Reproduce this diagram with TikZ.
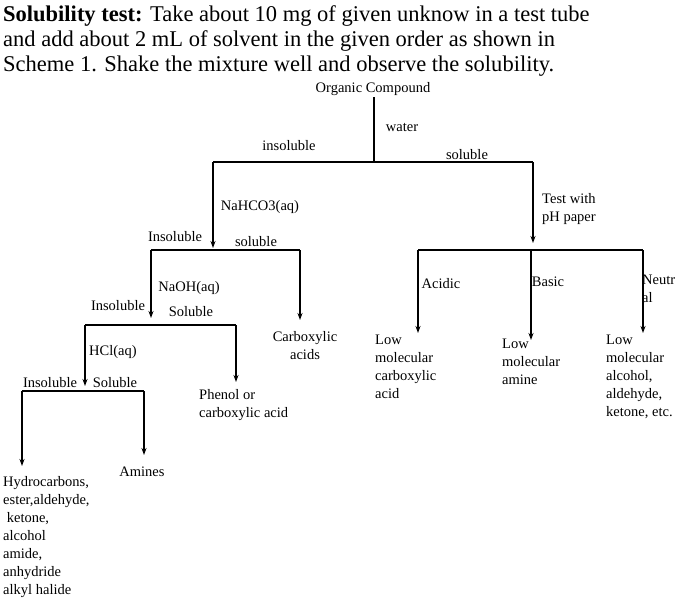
\documentclass[tikz,border=0pt]{standalone}
\usepackage{fontspec}
\setmainfont{Liberation Serif}
\usetikzlibrary{arrows.meta}
\begin{document}
\begin{tikzpicture}[x=1pt,y=-1pt,
  lbl/.style={font=\fontsize{14.5}{18}\selectfont,inner sep=0pt},
  blk/.style={lbl,align=left,anchor=north west},
  ln/.style={line width=1.2pt},
  ar/.style={ln,-{Stealth[length=7pt,width=5pt]}}]
\useasboundingbox (0,0) rectangle (700,608);
\node[anchor=north west,inner sep=0pt,align=left,font=\fontsize{22.5}{25}\selectfont] (head) at (3,5)
 {\textbf{Solubility test:} Take about 10 mg of given unknow in a test tube\\
 and add about 2 mL of solvent in the given order as shown in\\
 Scheme 1. Shake the mixture well and observe the solubility.};
\node[lbl] (oc) at (373,89) {Organic Compound};
\coordinate (t0) at (374,97);
\coordinate (j0) at (374,162);
\draw[ln] (t0) -- (j0);
\coordinate (l0) at (213,162); \coordinate (r0) at (533,162);
\draw[ln] (l0) -- (r0);
\node[lbl] (water) at (402,127) {water};
\node[lbl] (ins0) at (289,146) {insoluble};
\node[lbl] (sol0) at (467,155) {soluble};
% right branch
\node[lbl,align=left,anchor=north west] (ph) at (542,193) {Test with\\pH paper};
\coordinate (r1) at (533,243);
\draw[ar] (r0) -- (r1);
\coordinate (h1a) at (418,250); \coordinate (h1c) at (643,250);
\draw[ln] (h1a) -- (h1c);
\coordinate (h1b) at (531,250);
\coordinate (a1) at (418,333); \coordinate (a2) at (531,340); \coordinate (a3) at (643,333);
\draw[ar] (h1a) -- (a1); \draw[ar] (h1b) -- (a2); \draw[ar] (h1c) -- (a3);
\node[lbl] (acid) at (441,284) {Acidic};
\node[lbl] (basic) at (548,282) {Basic};
\node[blk] (neut) at (642,275) {Neutr\\al};
\node[blk] (lma) at (375,335) {Low\\molecular\\carboxylic\\acid};
\node[blk] (lmb) at (502,339) {Low\\molecular\\amine};
\node[blk] (lmn) at (606,335) {Low\\molecular\\alcohol,\\aldehyde,\\ketone, etc.};
% left branch level 1
\node[lbl] (nahco) at (260,207) {NaHCO3(aq)};
\coordinate (l1) at (213,248);
\draw[ar] (l0) -- (l1);
\node[lbl] (ins1) at (175,237) {Insoluble};
\node[lbl] (sol1) at (256,242) {soluble};
\coordinate (h2a) at (151,250); \coordinate (h2b) at (300,250);
\draw[ln] (h2a) -- (h2b);
\coordinate (b1) at (151,318); \coordinate (b2) at (300,320);
\draw[ar] (h2a) -- (b1); \draw[ar] (h2b) -- (b2);
\node[lbl,align=center] (carb) at (305,346) {Carboxylic\\acids};
\node[lbl] (naoh) at (189,288) {NaOH(aq)};
\node[lbl] (ins2) at (118,306) {Insoluble};
\node[lbl] (sol2) at (191,312) {Soluble};
\coordinate (h3a) at (85,325); \coordinate (h3b) at (236,325);
\draw[ln] (h3a) -- (h3b);
\coordinate (c1) at (85,386); \coordinate (c2) at (236,382);
\draw[ar] (h3a) -- (c1); \draw[ar] (h3b) -- (c2);
\node[blk] (phen) at (199,389) {Phenol or\\carboxylic acid};
\node[lbl] (hcl) at (113,352) {HCl(aq)};
\node[lbl] (ins3) at (50,383) {Insoluble};
\node[lbl] (sol3) at (115,383) {Soluble};
\coordinate (h4a) at (22,391); \coordinate (h4b) at (144,391);
\draw[ln] (h4a) -- (h4b);
\coordinate (d1) at (22,466); \coordinate (d2) at (144,455);
\draw[ar] (h4a) -- (d1); \draw[ar] (h4b) -- (d2);
\node[lbl] (amin) at (142,472) {Amines};
\node[blk] (hyd) at (3,476) {Hydrocarbons,\\ester,aldehyde,\\\ ketone,\\alcohol\\amide,\\anhydride\\alkyl halide};
\end{tikzpicture}
\end{document}
